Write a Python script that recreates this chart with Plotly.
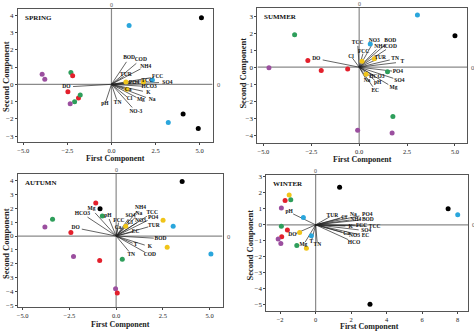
import plotly.graph_objects as go

W, H = 474, 332
COL = {"k": "#000000", "b": "#2aa6dc", "r": "#e3202c", "g": "#2e9e5b", "p": "#9b4f9f", "y": "#f0c419"}

# ---------------- SPRING ----------------
spring_pc1 = [5.1, 1.0, -3.93, -3.78, -2.3, -2.2, -2.47, -1.87, -1.77, -2.09, -2.34, 3.22, 4.06, 4.92, 0.82, 1.81, 0.87, 2.32]
spring_pc2 = [3.85, 3.4, 0.58, 0.29, 0.68, 0.5, -0.43, -0.79, -0.62, -1.0, -1.12, -2.2, -1.72, -2.55, 0.14, 0.14, -0.28, 0.25]
spring_grp = ["k", "b", "p", "p", "g", "r", "r", "r", "g", "g", "p", "b", "k", "k", "y", "y", "y", "b"]
spring_vars = ["BOD", "COD", "NH4", "TUR", "TCC", "FCC", "SO4", "HCO3", "PO4", "Ca", "K", "Na", "Mg", "Cl", "TN", "pH", "NO-3", "DO"]
spring_lx = [1.0, 1.66, 1.94, 0.82, 2.02, 2.62, 3.17, 2.13, 1.28, 0.95, 2.1, 2.3, 1.67, 1.03, 0.35, -0.37, 1.38, -2.56]
spring_ly = [1.53, 1.43, 1.05, 0.54, 0.24, 0.45, 0.12, -0.13, 0.08, -0.28, -0.47, -0.89, -0.89, -0.85, -1.04, -1.14, -1.57, -0.15]

# ---------------- SUMMER ----------------
summer_pc1 = [3.04, 5.0, -3.37, -2.68, -1.98, -0.6, -4.71, 1.48, 1.76, -0.08, 1.72, 0.58, 0.15, 0.79, 0.36]
summer_pc2 = [3.06, 1.84, 1.9, 0.39, -0.19, -0.11, -0.04, -0.27, -2.9, -3.71, -3.87, 1.36, 0.35, 0.5, -0.42]
summer_grp = ["b", "k", "g", "r", "r", "r", "p", "g", "g", "p", "p", "b", "y", "y", "y"]
summer_vars = ["TCC", "NO3", "BOD", "NH4", "COD", "FCC", "Cl", "TUR", "TN", "T", "PO4", "HCO3", "SO4", "Mg", "pH", "Na", "EC", "DO"]
summer_lx = [-0.08, 0.79, 1.62, 1.07, 1.65, 0.23, -0.42, 1.1, 1.88, 2.26, 2.02, 0.93, 2.1, 1.79, 0.96, 0.41, 0.84, -2.24]
summer_ly = [1.47, 1.57, 1.57, 1.22, 1.22, 0.93, 0.64, 0.54, 0.5, 0.31, -0.27, -0.58, -0.77, -1.2, -0.91, -0.81, -1.35, 0.5]

# ---------------- AUTUMN ----------------
autumn_pc1 = [3.53, -1.09, -0.86, -0.74, -3.4, -3.81, -2.42, 0.51, 2.51, 3.05, 2.73, 5.07, -2.28, -0.88, 0.33, -0.03, 0.06]
autumn_pc2 = [3.95, 2.4, 1.97, 1.45, 1.21, 0.66, 0.25, 0.71, 1.14, 0.71, -0.82, -1.3, -1.49, -1.78, -1.68, -3.81, -4.12]
autumn_grp = ["k", "r", "k", "g", "g", "p", "r", "y", "y", "b", "y", "b", "p", "r", "g", "p", "r"]
autumn_vars = ["Mg", "HCO3", "pH", "DO", "NH4", "TCC", "PO4", "Na", "SO4", "NO3", "FCC", "Cl", "TUR", "Ca", "EC", "BOD", "K", "T", "TN", "COD"]
autumn_lx = [-1.32, -1.8, -0.44, -2.16, 1.31, 1.93, 1.98, 1.22, 0.77, 1.31, 0.15, 0.74, 2.02, 0.1, 1.04, 2.37, 1.8, 1.04, 0.81, 1.8]
autumn_ly = [1.97, 1.61, 1.45, 0.59, 2.09, 1.68, 1.33, 1.61, 1.45, 1.14, 1.14, 0.97, 0.78, 0.59, 0.35, -0.18, -0.77, -0.61, -1.32, -1.37]

# ---------------- WINTER ----------------
winter_pc1 = [1.35, 7.46, 8.0, 3.06, -1.49, -1.72, -1.4, -1.93, -0.69, -1.93, -1.59, -0.9, -1.91, -2.11, -1.96, -1.06, -0.52, -0.24]
winter_pc2 = [2.34, 1.0, 0.63, -4.96, 1.87, 1.52, 1.56, 1.05, 0.45, -0.09, -0.33, -0.48, -0.74, -0.89, -1.16, -1.3, -1.47, -0.68]
winter_grp = ["k", "k", "b", "k", "y", "r", "g", "p", "b", "g", "r", "y", "r", "p", "p", "g", "y", "b"]
winter_vars = ["pH", "DO", "Mg", "T", "TN", "TUR", "Cl", "Na", "PO4", "NH4", "BOD", "FCC", "TCC", "K", "SO4", "Ca", "NO3", "EC", "HCO"]
winter_lx = [-1.49, -1.31, -0.69, -0.24, 0.1, 0.94, 1.6, 2.12, 2.91, 2.26, 2.94, 2.59, 3.32, 1.97, 2.85, 1.75, 2.19, 2.81, 2.16]
winter_ly = [0.8, -0.64, -1.26, -1.05, -1.26, 0.59, 0.45, 0.65, 0.65, 0.35, 0.35, -0.02, -0.09, -0.09, -0.37, -0.54, -0.7, -0.7, -1.09]

seasons = [
    ("SPRING", spring_pc1, spring_pc2, spring_grp, spring_vars, spring_lx, spring_ly),
    ("SUMMER", summer_pc1, summer_pc2, summer_grp, summer_vars, summer_lx, summer_ly),
    ("AUTUMN", autumn_pc1, autumn_pc2, autumn_grp, autumn_vars, autumn_lx, autumn_ly),
    ("WINTER", winter_pc1, winter_pc2, winter_grp, winter_vars, winter_lx, winter_ly),
]

# layout: pixel boxes of plot areas (x0, x1, ytop, ybottom)
boxes = [(17, 212, 7, 142), (257, 467, 6, 143), (17, 222, 174, 309), (266, 468, 175, 313)]
xranges = [[-5.3, 5.73], [-5.31, 5.63], [-5.25, 5.69], [-2.77, 8.58]]
yranges = [[-3.35, 4.36], [-4.47, 3.48], [-5.16, 4.5], [-5.4, 3.12]]
xticks = [[-5, -2.5, 0, 2.5, 5]] * 3 + [[-2, 0, 2, 4, 6, 8]]
xtickfmt = [".1f"] * 3 + ["d"]
yticks = [list(range(-3, 5)), list(range(-4, 4)), list(range(-5, 5)), list(range(-5, 4))]
xtitle_pos = [(115, 158), (362, 159), (120, 326), (369, 328)]
ytitle_pos = [(5, 75), (243, 72), (5, 244), (250, 246)]

SERIF = "Liberation Serif"
fig = go.Figure()
layout = dict(width=W, height=H, margin=dict(l=0, r=0, t=0, b=0), paper_bgcolor="white",
              plot_bgcolor="white", showlegend=False, annotations=[])

for i, (name, pc1, pc2, grp, vnames, lx, ly) in enumerate(seasons):
    n = "" if i == 0 else str(i + 1)
    xa, ya = "x" + n, "y" + n
    x0, x1, yt, yb = boxes[i]
    layout["xaxis" + n] = dict(domain=[x0 / W, x1 / W], range=xranges[i], anchor=ya,
                               tickvals=xticks[i], tickformat=xtickfmt[i], ticks="outside", ticklen=2,
                               tickcolor="#444", tickfont=dict(family=SERIF, size=6.5, color="#222"),
                               showgrid=False, showline=True, mirror=True, linecolor="#555", linewidth=1,
                               zeroline=False)
    layout["yaxis" + n] = dict(domain=[1 - yb / H, 1 - yt / H], range=yranges[i], anchor=xa,
                               tickvals=yticks[i], ticks="outside", ticklen=2, tickcolor="#444",
                               tickfont=dict(family=SERIF, size=7, color="#222"),
                               showgrid=False, showline=True, mirror=True, linecolor="#555", linewidth=1,
                               zeroline=False)
    # zero lines
    fig.add_trace(go.Scatter(x=[xranges[i][0], xranges[i][1]], y=[0, 0], mode="lines",
                             line=dict(color="#8a8a8a", width=1.2), xaxis=xa, yaxis=ya, hoverinfo="skip"))
    fig.add_trace(go.Scatter(x=[0, 0], y=[yranges[i][0], yranges[i][1]], mode="lines",
                             line=dict(color="#8a8a8a", width=1.2), xaxis=xa, yaxis=ya, hoverinfo="skip"))
    # loading arrows
    ax, ay = [], []
    for vx, vy in zip(lx, ly):
        ax += [0, vx * 0.85, None]
        ay += [0, vy * 0.85, None]
    fig.add_trace(go.Scatter(x=ax, y=ay, mode="lines", line=dict(color="#222", width=0.7),
                             xaxis=xa, yaxis=ya, hoverinfo="skip"))
    # points
    fig.add_trace(go.Scatter(x=pc1, y=pc2, mode="markers",
                             marker=dict(size=5, color=[COL[g] for g in grp]),
                             xaxis=xa, yaxis=ya))
    # labels
    fig.add_trace(go.Scatter(x=lx, y=ly, mode="text", text=["<b>%s</b>" % v for v in vnames],
                             textfont=dict(family=SERIF, size=5.5, color="#111"),
                             xaxis=xa, yaxis=ya, hoverinfo="skip"))
    ann = layout["annotations"]
    ann.append(dict(text="<b>%s</b>" % name, xref="paper", yref="paper", x=(x0 + 5) / W, y=1 - (yt + 3) / H,
                    xanchor="left", yanchor="top", showarrow=False,
                    font=dict(family=SERIF, size=7, color="#111")))
    ann.append(dict(text="0", xref=xa, yref="paper", x=0, y=1 - (yt - 4) / H, xanchor="center",
                    yanchor="middle", showarrow=False, font=dict(family=SERIF, size=6, color="#555")))
    ann.append(dict(text="0", xref="paper", yref=ya, x=(x1 + 2) / W, y=0, xanchor="left",
                    yanchor="middle", showarrow=False, font=dict(family=SERIF, size=6.5, color="#555")))
    tx, ty = xtitle_pos[i]
    ann.append(dict(text="<b>First Component</b>", xref="paper", yref="paper", x=tx / W, y=1 - ty / H,
                    xanchor="center", yanchor="middle", showarrow=False,
                    font=dict(family=SERIF, size=8, color="#222")))
    sx, sy = ytitle_pos[i]
    ann.append(dict(text="<b>Second Component</b>", xref="paper", yref="paper", x=sx / W, y=1 - sy / H,
                    xanchor="center", yanchor="middle", showarrow=False, textangle=-90,
                    font=dict(family=SERIF, size=8.5, color="#222")))

fig.update_layout(**layout)
fig.write_html("out.html")
